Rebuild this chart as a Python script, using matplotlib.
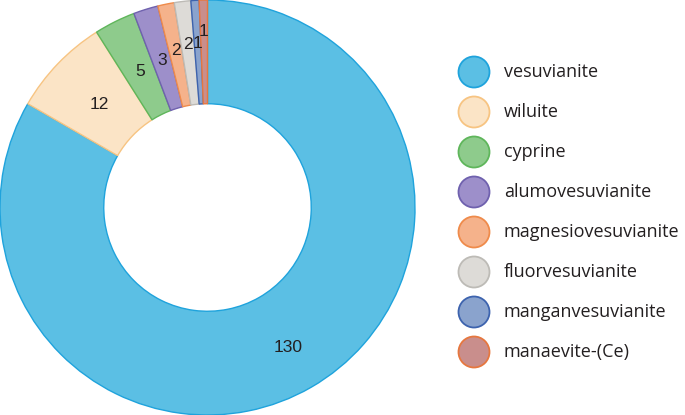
import matplotlib
matplotlib.use("Agg")
import matplotlib.pyplot as plt
import numpy as np
from matplotlib.patches import Circle

categories = ["vesuvianite", "wiluite", "cyprine", "alumovesuvianite",
              "magnesiovesuvianite", "fluorvesuvianite", "manganvesuvianite",
              "manaevite-(Ce)"]
values = [130, 12, 5, 3, 2, 2, 1, 1]
fill_colors = ["#5bbfe4", "#fbe4c6", "#8ecb8c", "#9d8fca", "#f5b28b",
               "#dddbd7", "#8aa3cd", "#c98e8c"]
edge_colors = ["#1fa3dc", "#f7c482", "#5fb65b", "#6f61ae", "#ef8b4b",
               "#bdbbb6", "#3d63ae", "#e6773f"]
label_dist = [0.78, 0.72, 0.73, 0.74, 0.77, 0.79, 0.79, 0.85]

fig = plt.figure(figsize=(6.85, 4.15), dpi=100)
ax = fig.add_axes([0, 0, 415 / 685, 1])
wedges, texts = ax.pie(values, startangle=90, counterclock=False,
                       colors=fill_colors, radius=1.0,
                       labels=[str(v) for v in values], labeldistance=0.76,
                       wedgeprops=dict(width=0.5, linewidth=1.0),
                       textprops=dict(fontsize=12.5, family="Liberation Sans",
                                      color="#231f20", ha="center", va="center"))
for w, ec, t, d in zip(wedges, edge_colors, texts, label_dist):
    w.set_edgecolor(ec)
    ang = np.deg2rad((w.theta1 + w.theta2) / 2)
    t.set_position((d * np.cos(ang), d * np.sin(ang)))
    t.set_ha("center")
ax.set_xlim(-1.0, 1.0)
ax.set_ylim(-1.0, 1.0)
ax.set_aspect("equal")
ax.axis("off")

# legend
lax = fig.add_axes([0, 0, 1, 1])
lax.set_xlim(0, 685)
lax.set_ylim(415, 0)
lax.axis("off")
for i, (cat, fc, ec) in enumerate(zip(categories, fill_colors, edge_colors)):
    y = 72 + i * 40
    lax.add_patch(Circle((474, y), 15.5, facecolor=fc, edgecolor=ec, linewidth=1.3))
    lax.text(504, y, cat, fontsize=13, family="Open Sans", color="#231f20",
             ha="left", va="center")

fig.savefig("out.png", dpi=100)
